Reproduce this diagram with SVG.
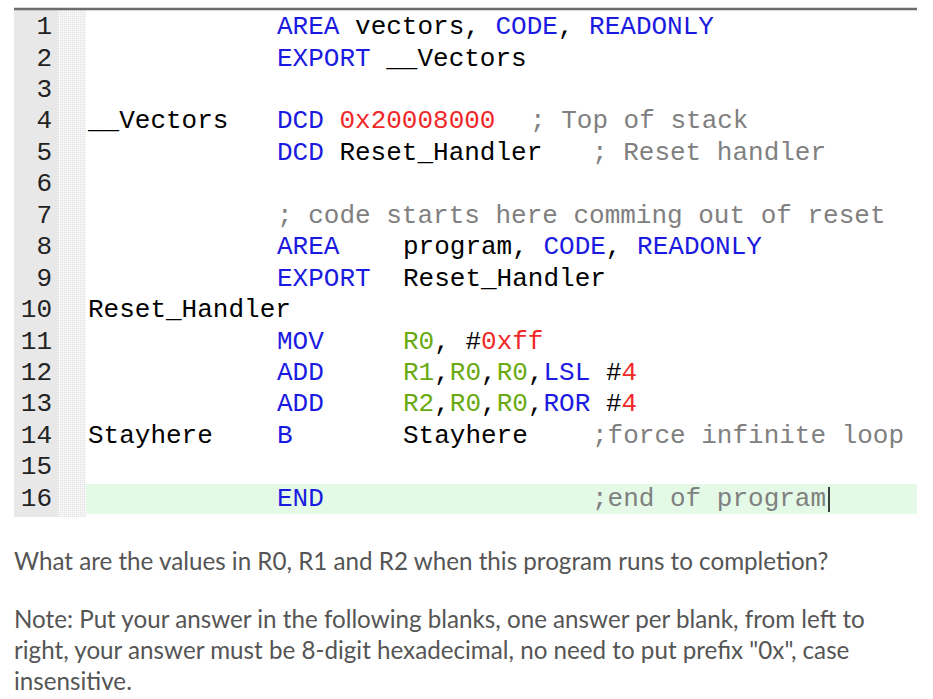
<svg xmlns="http://www.w3.org/2000/svg" width="933" height="699" viewBox="0 0 933 699">
<defs>
<pattern id="dots" width="2" height="2" patternUnits="userSpaceOnUse"><rect width="2" height="2" fill="#f6f6f6"/><rect width="1" height="1" fill="#e2e2e2"/></pattern>
</defs>
<style>
.c{font-family:"Liberation Mono","Courier New",monospace;font-size:26px;fill:#000;white-space:pre}
.n{font-family:"Liberation Mono","Courier New",monospace;font-size:26px;fill:#222;text-anchor:end}
.k{fill:#1a1ae0}.r{fill:#f02828}.g{fill:#6aaa10}.m{fill:#808080}
.p{font-family:Lato,"Open Sans",sans-serif;font-size:24.2px;fill:#555}
</style>
<rect width="933" height="699" fill="#fff"/>
<g id="editor">
<rect x="14" y="9" width="44" height="508" fill="#e8e8e8"/>
<rect x="58" y="9" width="28" height="508" fill="url(#dots)"/>
<rect x="86" y="484" width="831" height="30" fill="#e4fae6"/>
<line x1="14" y1="9" x2="917" y2="9" stroke="#6d6d6d" stroke-width="2.5"/>
<line x1="829" y1="487" x2="829" y2="512" stroke="#000" stroke-width="1.5"/>
</g>
<g id="linenumbers">
<text class="n" x="52" y="34">1</text><text class="n" x="52" y="65.5">2</text><text class="n" x="52" y="97">3</text><text class="n" x="52" y="128.4">4</text><text class="n" x="52" y="159.8">5</text><text class="n" x="52" y="191.3">6</text><text class="n" x="52" y="222.7">7</text><text class="n" x="52" y="254.2">8</text><text class="n" x="52" y="285.6">9</text><text class="n" x="52" y="317">10</text><text class="n" x="52" y="348.5">11</text><text class="n" x="52" y="380">12</text><text class="n" x="52" y="411.4">13</text><text class="n" x="52" y="442.8">14</text><text class="n" x="52" y="474.3">15</text><text class="n" x="52" y="505.7">16</text>
</g>
<g id="code">
<text class="c" x="277" y="34"><tspan class="k">AREA</tspan> vectors, <tspan class="k">CODE</tspan>, <tspan class="k">READONLY</tspan></text>
<text class="c" x="277" y="65.5"><tspan class="k">EXPORT</tspan> __Vectors</text>
<text class="c" x="88" y="128.4">__Vectors</text>
<text class="c" x="277" y="128.4"><tspan class="k">DCD</tspan> <tspan class="r">0x20008000</tspan></text>
<text class="c m" x="530" y="128.4">; Top of stack</text>
<text class="c" x="277" y="159.8"><tspan class="k">DCD</tspan> Reset_Handler</text>
<text class="c m" x="592" y="159.8">; Reset handler</text>
<text class="c m" x="277" y="222.7">; code starts here comming out of reset</text>
<text class="c k" x="277" y="254.2">AREA</text>
<text class="c" x="403" y="254.2">program, <tspan class="k">CODE</tspan>, <tspan class="k">READONLY</tspan></text>
<text class="c k" x="277" y="285.6">EXPORT</text>
<text class="c" x="403" y="285.6">Reset_Handler</text>
<text class="c" x="88" y="317">Reset_Handler</text>
<text class="c k" x="277" y="348.5">MOV</text>
<text class="c" x="403" y="348.5"><tspan class="g">R0</tspan>, #<tspan class="r">0xff</tspan></text>
<text class="c k" x="277" y="380">ADD</text>
<text class="c" x="403" y="380"><tspan class="g">R1</tspan>,<tspan class="g">R0</tspan>,<tspan class="g">R0</tspan>,<tspan class="k">LSL</tspan> #<tspan class="r">4</tspan></text>
<text class="c k" x="277" y="411.4">ADD</text>
<text class="c" x="403" y="411.4"><tspan class="g">R2</tspan>,<tspan class="g">R0</tspan>,<tspan class="g">R0</tspan>,<tspan class="k">ROR</tspan> #<tspan class="r">4</tspan></text>
<text class="c" x="88" y="442.8">Stayhere</text>
<text class="c k" x="277" y="442.8">B</text>
<text class="c" x="403" y="442.8">Stayhere</text>
<text class="c m" x="592" y="442.8">;force infinite loop</text>
<text class="c k" x="277" y="505.7">END</text>
<text class="c m" x="592" y="505.7">;end of program</text>
</g>
<g id="question">
<text class="p" x="14" y="570">What are the values in R0, R1 and R2 when this program runs to completion?</text>
<text class="p" x="14" y="628">Note: Put your answer in the following blanks, one answer per blank, from left to</text>
<text class="p" x="14" y="659">right, your answer must be 8-digit hexadecimal, no need to put prefix "0x", case</text>
<text class="p" x="14" y="690">insensitive.</text>
</g>
</svg>
